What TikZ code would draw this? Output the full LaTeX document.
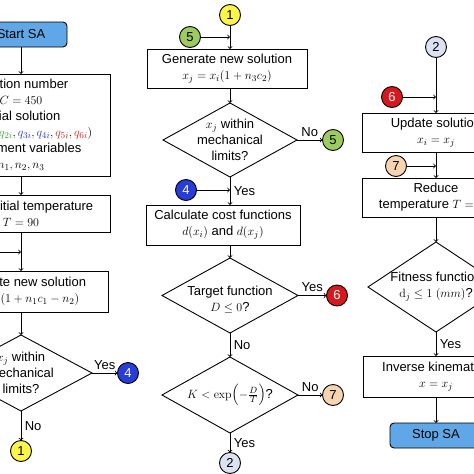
\documentclass[tikz,border=0pt]{standalone}
\usepackage[no-math]{fontspec}
\setmainfont{Liberation Sans}
\usepackage{amsmath}
\usepackage{tikz}
\usepackage{xcolor}
\usetikzlibrary{shapes.geometric}
\definecolor{saBlue}{RGB}{95,167,230}
\definecolor{linkYellow}{RGB}{250,245,70}
\definecolor{linkGreen}{RGB}{156,203,94}
\definecolor{linkBlue}{RGB}{40,60,215}
\definecolor{linkRed}{RGB}{215,25,30}
\definecolor{linkPeach}{RGB}{245,212,175}
\definecolor{linkLilac}{RGB}{220,226,242}
\definecolor{qGreen}{RGB}{60,160,60}
\definecolor{qBlue}{RGB}{40,50,210}
\definecolor{qRed}{RGB}{210,30,30}
\tikzset{
StepBox/.style={
 draw=black,
 rectangle,
 align=center,
 inner sep=0pt,
 outer sep=0pt
 },
StartStop/.style={
 draw=black,
 fill=saBlue,
 rectangle,
 rounded corners=4pt,
 inner sep=0pt,
 outer sep=0pt
 },
TestDiamond/.style={
 draw=black,
 diamond,
 inner sep=0pt,
 outer sep=0pt
 },
LinkCircle/.style={
 draw=black,
 circle,
 minimum size=21pt,
 inner sep=0pt,
 outer sep=0pt
 },
Fleche/.style={
 draw=black,
 ->
 }
}
\begin{document}
\begin{tikzpicture}[x=1pt,y=-1pt,line width=0.9pt,font=\fontsize{13}{16}\selectfont]
\useasboundingbox (0,0) rectangle (474,474);
\clip (0,0) rectangle (474,474);
% first column
\node[StartStop,minimum width=92pt,minimum height=25pt] (start) at (21,34.5) {Start SA};
\node[StepBox,minimum width=178pt,minimum height=102pt] (init) at (21,125) {Iteration number\\$C=450$\\Initial solution\\
 $x_i=(\textcolor{qGreen}{q_{1i}},\textcolor{qGreen}{q_{2i}},\textcolor{qBlue}{q_{3i}},\textcolor{qBlue}{q_{4i}},\textcolor{qRed}{q_{5i}},\textcolor{qRed}{q_{6i}})$\\
 Adjustment variables\\$n_1,n_2,n_3$};
\node[StepBox,minimum width=178pt,minimum height=37pt] (temp) at (21,213.5) {Define initial temperature\\$T=90$};
\node[StepBox,minimum width=174pt,minimum height=41pt] (gena) at (21,291.5) {Generate new solution\\$x_j=x_i(1+n_1c_1-n_2)$};
\node[TestDiamond,minimum width=142pt,minimum height=76pt] (da) at (21,373) {};
\node[align=center] (dat) at (da) {$x_j$ within\\mechanical\\limits?};
\node[LinkCircle,fill=linkBlue,text=white] (c4a) at (128,373) {4};
\node[LinkCircle,fill=linkYellow] (c1a) at (21,451) {1};
\coordinate (f3) at (-30,252);
\coordinate (j3) at (21,252);
\draw[Fleche] (start) -- (init);
\draw[Fleche] (init) -- (temp);
\draw[Fleche] (temp) -- (gena);
\draw[Fleche] (f3) -- (j3);
\draw[Fleche] (gena) -- (da);
\draw[Fleche] (da) -- (c4a) node[midway,above] {Yes};
\draw[Fleche] (da) -- (c1a) node[midway,right] {No};
% second column
\node[LinkCircle,fill=linkYellow] (c1b) at (230,15) {1};
\node[LinkCircle,fill=linkGreen] (c5a) at (190,37) {5};
\node[StepBox,minimum width=160pt,minimum height=39pt] (genb) at (227,68.5) {Generate new solution\\$x_j=x_i(1+n_3c_2)$};
\node[TestDiamond,minimum width=134pt,minimum height=74pt] (db) at (230,140) {};
\node[align=center] (dbt) at (db) {$x_j$ within\\mechanical\\limits?};
\node[LinkCircle,fill=linkGreen] (c5b) at (333,140) {5};
\node[LinkCircle,fill=linkBlue,text=white] (c4b) at (186,190) {4};
\node[StepBox,minimum width=154pt,minimum height=40pt] (cost) at (223,225) {Calculate cost functions\\$d(x_i)$ and $d(x_j)$};
\node[TestDiamond,minimum width=136pt,minimum height=75pt] (dc) at (230,295.5) {};
\node[align=center] (dct) at (230,300) {Target function\\$D\leq 0$?};
\node[LinkCircle,fill=linkRed,text=white] (c6a) at (337,295.5) {6};
\node[TestDiamond,minimum width=136pt,minimum height=76pt] (dd) at (230,395) {};
\node (ddt) at (dd) {$K<\exp\Bigl(-\frac{D}{T}\Bigr)$?};
\node[LinkCircle,fill=linkPeach] (c7a) at (333,395) {7};
\node[LinkCircle,fill=linkLilac] (c2a) at (230,463) {2};
\coordinate (j5) at (230,37);
\coordinate (j4) at (230,190);
\draw[Fleche] (c1b) -- (c1b |- genb.north);
\draw[Fleche] (c5a) -- (j5);
\draw[Fleche] (db.north |- genb.south) -- (db.north);
\draw[Fleche] (db) -- (c5b) node[midway,above] {No};
\draw[Fleche] (db.south) -- (db.south |- cost.north) node[midway,right] {Yes};
\draw[Fleche] (c4b) -- (j4);
\draw[Fleche] (dc.north |- cost.south) -- (dc.north);
\draw[Fleche] (dc) -- (c6a) node[midway,above] {Yes};
\draw[Fleche] (dc) -- (dd) node[midway,right] {No};
\draw[Fleche] (dd) -- (c7a) node[midway,above] {No};
\draw[Fleche] (dd) -- (c2a) node[midway,right] {Yes};
% third column
\node[LinkCircle,fill=linkLilac] (c2b) at (436,47) {2};
\node[LinkCircle,fill=linkRed,text=white] (c6b) at (392,97) {6};
\node[StepBox,minimum width=148pt,minimum height=39pt] (upd) at (436,132.5) {Update solution\\$x_i=x_j$};
\node[LinkCircle,fill=linkPeach] (c7b) at (396,166) {7};
\node[StepBox,minimum width=148pt,minimum height=39pt] (red) at (436,197.5) {Reduce\\temperature $T=\alpha T$};
\node[TestDiamond,minimum width=136pt,minimum height=90pt] (de) at (436,287) {};
\node[align=center] (det) at (de) {Fitness function\\$\mathrm{d}_j\leq 1\;(mm)$?};
\node[StepBox,minimum width=146pt,minimum height=41pt] (inv) at (436,376.5) {Inverse kinematics\\$x=x_j$};
\node[StartStop,minimum width=92pt,minimum height=25pt] (stop) at (436,435.5) {Stop SA};
\coordinate (j6) at (436,97);
\coordinate (j7) at (436,166);
\draw[Fleche] (c2b) -- (upd);
\draw[Fleche] (c6b) -- (j6);
\draw[Fleche] (upd) -- (red);
\draw[Fleche] (c7b) -- (j7);
\draw[Fleche] (red) -- (de);
\draw[Fleche] (de) -- (inv) node[midway,right] {Yes};
\draw[Fleche] (inv) -- (stop);
\end{tikzpicture}
\end{document}
